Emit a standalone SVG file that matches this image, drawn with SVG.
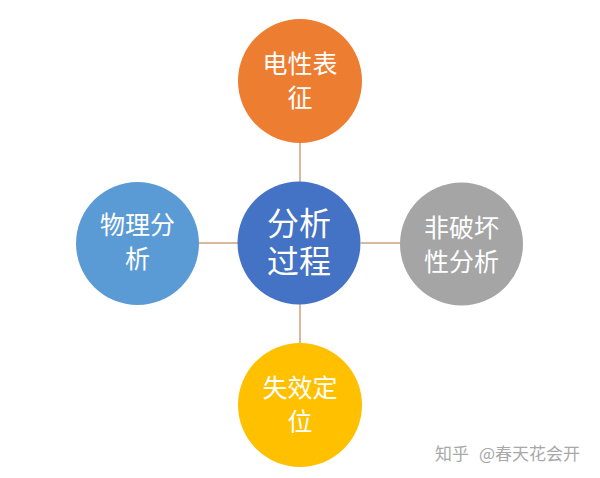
<svg xmlns="http://www.w3.org/2000/svg" width="600" height="478" viewBox="0 0 600 478">
<style>
.t{font-family:"Noto Sans CJK SC","Noto Sans",sans-serif;fill:#ffffff;text-anchor:middle;dominant-baseline:central;font-size:25px}
.big{font-size:32px}
.c{stroke:#d9b99b;stroke-width:2;fill:none}
.wm{font-family:"Noto Sans CJK SC","Noto Sans",sans-serif;fill:#a8a8a8;font-size:17px}
</style>
<rect width="600" height="478" fill="#ffffff"/>
<g id="connectors">
<line class="c" x1="300" y1="142" x2="300" y2="182"/>
<line class="c" x1="199" y1="243" x2="238" y2="243"/>
<line class="c" x1="361" y1="243" x2="400" y2="243"/>
<line class="c" x1="300" y1="304" x2="300" y2="343"/>
</g>
<g id="top">
<circle cx="300" cy="81" r="62" fill="#ed7d31"/>
<text class="t" x="300" y="61.5">电性表</text>
<text class="t" x="300" y="95.5">征</text>
</g>
<g id="center">
<circle cx="299" cy="243" r="61.5" fill="#4472c4"/>
<text class="t big" x="299" y="221">分析</text>
<text class="t big" x="299" y="259">过程</text>
</g>
<g id="left">
<circle cx="137.5" cy="243.5" r="61.5" fill="#5b9bd5"/>
<text class="t" x="137.5" y="222.5">物理分</text>
<text class="t" x="137.5" y="256.5">析</text>
</g>
<g id="right">
<circle cx="461.5" cy="244" r="61.5" fill="#a5a5a5"/>
<text class="t" x="461.5" y="225.5">非破坏</text>
<text class="t" x="461.5" y="259.5">性分析</text>
</g>
<g id="bottom">
<circle cx="300" cy="405" r="62" fill="#ffc000"/>
<text class="t" x="300" y="385.5">失效定</text>
<text class="t" x="300" y="419.5">位</text>
</g>
<text class="wm" y="460"><tspan x="435">知乎</tspan><tspan x="479">@春天花会开</tspan></text>
</svg>
